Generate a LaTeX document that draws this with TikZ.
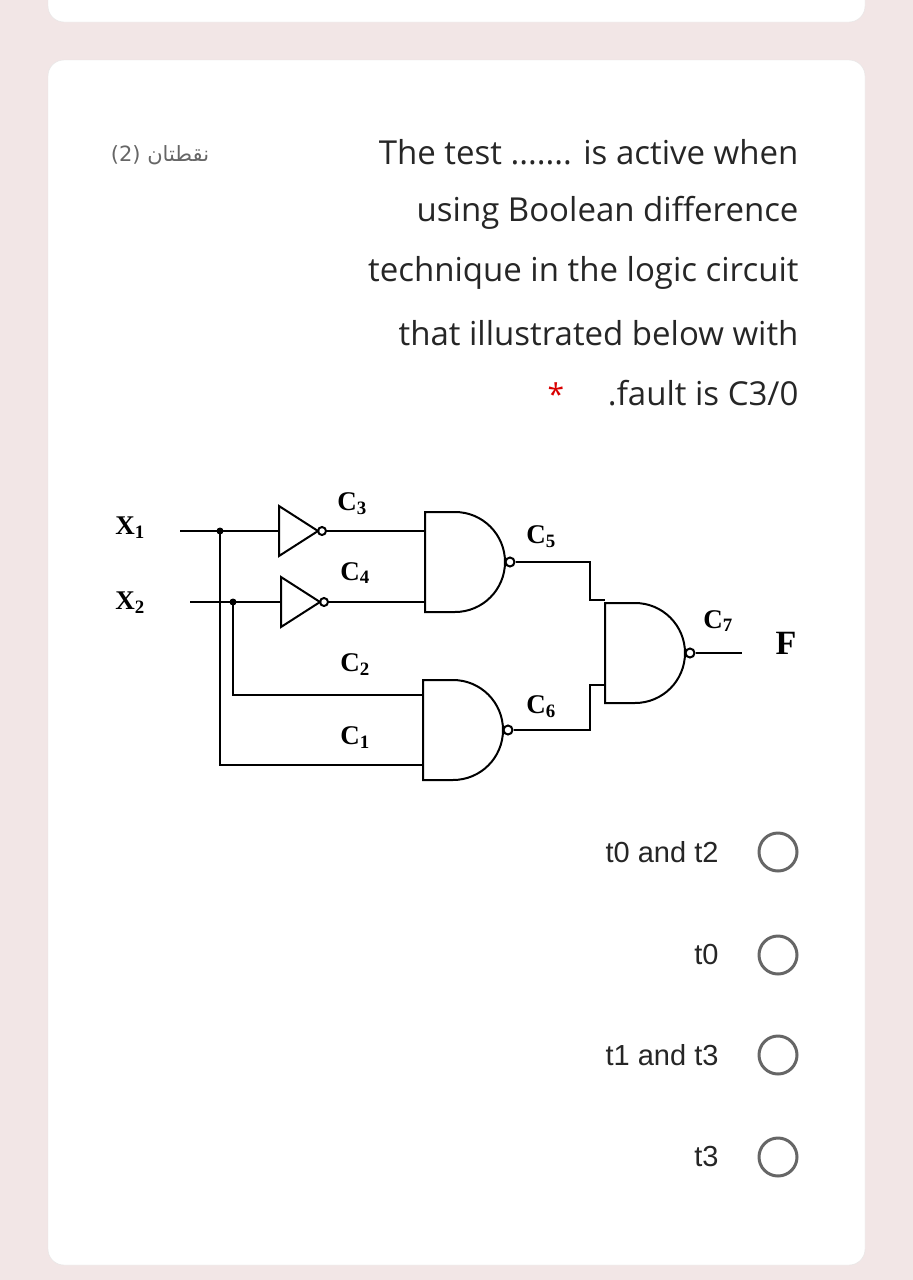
\documentclass[tikz,border=0pt]{standalone}
\usepackage{fontspec}
\setmainfont{Liberation Serif}
\setsansfont{Open Sans}
\newfontfamily\arabicfont[Script=Arabic]{DejaVu Sans}
\newfontfamily\robo{Liberation Sans}
\TeXXeTstate=1
\definecolor{bgpink}{HTML}{F2E6E6}
\begin{document}
\begin{tikzpicture}[x=1pt,y=-1pt,
  wire/.style={line width=2.6pt},
  gate/.style={line width=2pt},
  lab/.style={font=\fontsize{27}{27}\selectfont\bfseries},
  qtext/.style={font=\fontsize{33}{33}\selectfont\sffamily,anchor=east,text=black!85},
  opt/.style={font=\fontsize{29}{29}\robo,anchor=east,text=black!85},
  radio/.style={circle,draw=black!60,line width=3pt,minimum size=38pt,inner sep=0pt}]
\useasboundingbox (0,0) rectangle (913,1280);
\clip (0,0) rectangle (913,1280);
\fill[bgpink] (0,0) rectangle (913,1280);
\draw[fill=white,draw=black!10,rounded corners=16pt] (48,-40) rectangle (865,22);
\draw[fill=white,draw=black!10,rounded corners=16pt] (48,60) rectangle (865,1265);
\node[font=\fontsize{21}{21}\arabicfont,text=black!60] (pts) at (160,155) {\beginR نقطتان (2)\endR};
\node[qtext] (q1) at (802,152) {The test ....... is active when};
\node[qtext] (q2) at (802,213) {using Boolean difference};
\node[qtext] (q3) at (802,273) {technique in the logic circuit};
\node[qtext] (q4) at (802,333) {that illustrated below with};
\node[qtext] (q5) at (802,393) {.fault is C3/0};
\node[font=\fontsize{30}{30}\sffamily,text=red!85!black] (ast) at (556,394) {*};
% circuit
\coordinate (x1s) at (180,531); \coordinate (x2s) at (190,602);
\coordinate (d1) at (220,531); \coordinate (d2) at (233,602);
\node[lab] (X1) at (130,528) {X\textsubscript{1}};
\node[lab] (X2) at (130,603) {X\textsubscript{2}};
\node[lab,font=\fontsize{34}{34}\selectfont\bfseries] (F) at (786,643) {F};
% inverters
\draw[gate] (279,506) -- (279,556) -- (318,531) -- cycle;
\draw[gate] (281,577) -- (281,627) -- (320,602) -- cycle;
\node[circle,draw,gate,inner sep=0pt,minimum size=8pt] (b1) at (322,531) {};
\node[circle,draw,gate,inner sep=0pt,minimum size=8pt] (b2) at (324,602) {};
% nand gates
\draw[gate] (425,512) -- (455,512) arc[start angle=-90,end angle=90,radius=50] -- (425,612) -- cycle;
\draw[gate] (423,680) -- (453,680) arc[start angle=-90,end angle=90,radius=50] -- (423,780) -- cycle;
\draw[gate] (605,603) -- (635,603) arc[start angle=-90,end angle=90,radius=50] -- (605,703) -- cycle;
\node[circle,draw,gate,inner sep=0pt,minimum size=9pt] (b3) at (510,562) {};
\node[circle,draw,gate,inner sep=0pt,minimum size=9pt] (b4) at (508,730) {};
\node[circle,draw,gate,inner sep=0pt,minimum size=9pt] (b5) at (690,653) {};
\coordinate (g1a) at (425,531); \coordinate (g1b) at (425,602);
\coordinate (g2a) at (423,695); \coordinate (g2b) at (423,765);
\coordinate (g3a) at (605,600); \coordinate (g3b) at (605,685);
% wires
\draw[wire] (x1s) -- (279,531);
\draw[wire] (x2s) -- (281,602);
\draw[wire] (b1) -- (g1a);
\draw[wire] (b2) -- (g1b);
\draw[wire] (d1) |- (g2b);
\draw[wire] (d2) |- (g2a);
\fill (d1) circle (3.5pt); \fill (d2) circle (3.5pt);
\draw[wire] (b3) -- (590,562) |- (g3a);
\draw[wire] (b4) -- (590,730) |- (g3b);
\draw[wire] (b5) -- (742,653);
\node[lab] (C3) at (352,504) {C\textsubscript{3}};
\node[lab] (C4) at (355,573) {C\textsubscript{4}};
\node[lab] (C5) at (541,537) {C\textsubscript{5}};
\node[lab] (C2) at (355,665) {C\textsubscript{2}};
\node[lab] (C6) at (541,707) {C\textsubscript{6}};
\node[lab] (C1) at (355,738) {C\textsubscript{1}};
\node[lab] (C7) at (718,621) {C\textsubscript{7}};
% options
\node[opt] (o1) at (722,852) {t0 and t2};
\node[opt] (o2) at (722,955) {t0};
\node[opt] (o3) at (722,1055) {t1 and t3};
\node[opt] (o4) at (722,1157) {t3};
\node[radio] (r1) at (778,852) {};
\node[radio] (r2) at (778,955) {};
\node[radio] (r3) at (778,1055) {};
\node[radio] (r4) at (778,1157) {};
\end{tikzpicture}
\end{document}
